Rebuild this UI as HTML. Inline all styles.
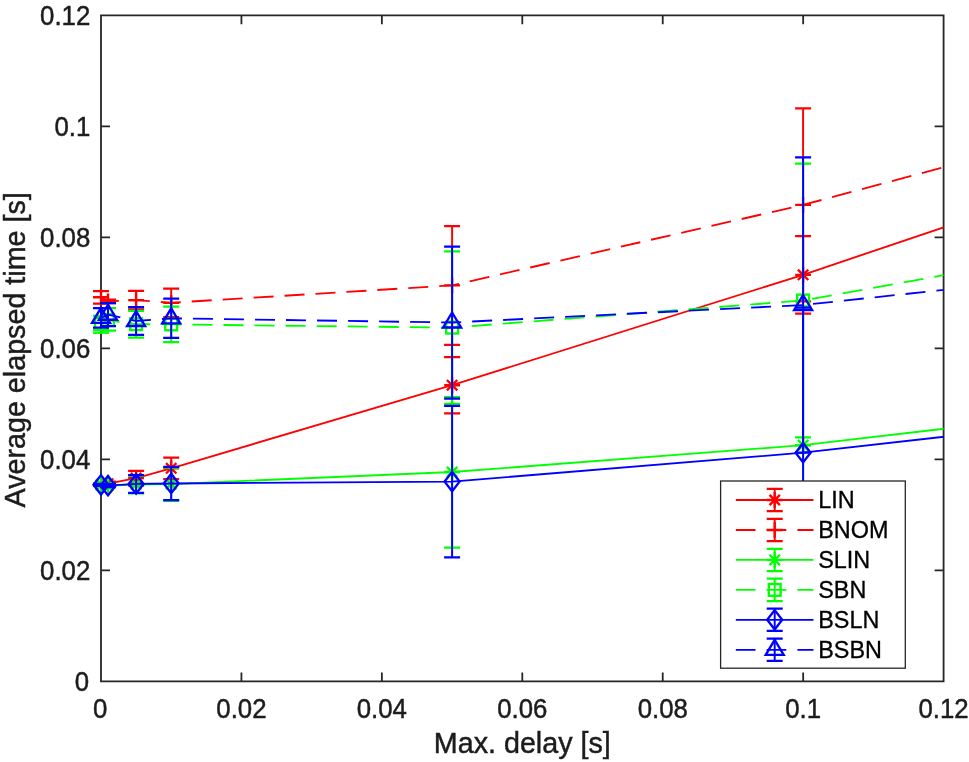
<!DOCTYPE html>
<html lang="en"><head><meta charset="utf-8"><title>Average elapsed time vs. max. delay</title>
<style>
html,body{margin:0;padding:0;background:#fff;}
body{width:969px;height:762px;overflow:hidden;}
svg{display:block;}
text{font-family:"Liberation Sans",Arial,Helvetica,sans-serif;fill:#1c1c1c;}
.tk{font-size:25.8px;stroke:#1c1c1c;stroke-width:0.45px;}
.lb{font-size:28.7px;stroke:#1c1c1c;stroke-width:0.45px;}
.lg{font-size:23.4px;fill:#000;stroke:#000;stroke-width:0.3px;}
</style></head><body>
<svg width="969" height="762" viewBox="0 0 969 762">
<rect x="0" y="0" width="969" height="762" fill="#ffffff"/>
<defs><clipPath id="ax"><rect x="101.00" y="15.30" width="842.60" height="666.10"/></clipPath></defs>

<path d="M101.0 15.3H943.6V681.4H101.0ZM101.00 681.4v-9.0M101.00 15.3v9.0M101.0 681.40h9.0M943.6 681.40h-9.0M241.43 681.4v-9.0M241.43 15.3v9.0M101.0 570.38h9.0M943.6 570.38h-9.0M381.87 681.4v-9.0M381.87 15.3v9.0M101.0 459.37h9.0M943.6 459.37h-9.0M522.30 681.4v-9.0M522.30 15.3v9.0M101.0 348.35h9.0M943.6 348.35h-9.0M662.73 681.4v-9.0M662.73 15.3v9.0M101.0 237.33h9.0M943.6 237.33h-9.0M803.17 681.4v-9.0M803.17 15.3v9.0M101.0 126.32h9.0M943.6 126.32h-9.0M943.60 681.4v-9.0M943.60 15.3v9.0M101.0 15.30h9.0M943.6 15.30h-9.0" stroke="#262626" stroke-width="1.8" fill="none" stroke-linecap="butt"/>
<g>
<path clip-path="url(#ax)" d="M101.00 484.80L108.00 483.70L136.10 478.10L171.20 468.30L452.10 385.20L803.10 274.80L953.60 223.92" stroke="#ff0000" stroke-width="1.85" fill="none" stroke-linejoin="round"/>
<path d="M101.00 483.80V485.80" stroke="#ff0000" stroke-width="1.95" fill="none"/><path d="M93.00 483.80H109.00M93.00 485.80H109.00" stroke="#ff0000" stroke-width="2.25" fill="none"/>
<path d="M108.00 481.70V485.70" stroke="#ff0000" stroke-width="1.95" fill="none"/><path d="M100.00 481.70H116.00M100.00 485.70H116.00" stroke="#ff0000" stroke-width="2.25" fill="none"/>
<path d="M136.10 470.80V485.60" stroke="#ff0000" stroke-width="1.95" fill="none"/><path d="M128.10 470.80H144.10M128.10 485.60H144.10" stroke="#ff0000" stroke-width="2.25" fill="none"/>
<path d="M171.20 457.70V479.00" stroke="#ff0000" stroke-width="1.95" fill="none"/><path d="M163.20 457.70H179.20M163.20 479.00H179.20" stroke="#ff0000" stroke-width="2.25" fill="none"/>
<path d="M452.10 357.10V413.30" stroke="#ff0000" stroke-width="1.95" fill="none"/><path d="M444.10 357.10H460.10M444.10 413.30H460.10" stroke="#ff0000" stroke-width="2.25" fill="none"/>
<path d="M803.10 236.10V313.50" stroke="#ff0000" stroke-width="1.95" fill="none"/><path d="M795.10 236.10H811.10M795.10 313.50H811.10" stroke="#ff0000" stroke-width="2.25" fill="none"/>
<path d="M93.10 484.80H108.90M101.00 476.90V492.70M95.80 479.60L106.20 490.00M95.80 490.00L106.20 479.60" stroke="#ff0000" stroke-width="2.35" fill="none"/>
<path d="M100.10 483.70H115.90M108.00 475.80V491.60M102.80 478.50L113.20 488.90M102.80 488.90L113.20 478.50" stroke="#ff0000" stroke-width="2.35" fill="none"/>
<path d="M128.20 478.10H144.00M136.10 470.20V486.00M130.90 472.90L141.30 483.30M130.90 483.30L141.30 472.90" stroke="#ff0000" stroke-width="2.35" fill="none"/>
<path d="M163.30 468.30H179.10M171.20 460.40V476.20M166.00 463.10L176.40 473.50M166.00 473.50L176.40 463.10" stroke="#ff0000" stroke-width="2.35" fill="none"/>
<path d="M444.20 385.20H460.00M452.10 377.30V393.10M446.90 380.00L457.30 390.40M446.90 390.40L457.30 380.00" stroke="#ff0000" stroke-width="2.35" fill="none"/>
<path d="M795.20 274.80H811.00M803.10 266.90V282.70M797.90 269.60L808.30 280.00M797.90 280.00L808.30 269.60" stroke="#ff0000" stroke-width="2.35" fill="none"/>
<path clip-path="url(#ax)" d="M101.00 297.30L108.00 301.40L136.10 300.10L171.20 302.80L452.10 285.40L803.10 204.90L953.60 164.62" stroke="#ff0000" stroke-width="1.85" fill="none" stroke-linejoin="round" stroke-dasharray="20 11.0" stroke-dashoffset="1.0"/>
<path d="M101.00 291.00V303.60" stroke="#ff0000" stroke-width="1.95" fill="none"/><path d="M93.00 291.00H109.00M93.00 303.60H109.00" stroke="#ff0000" stroke-width="2.25" fill="none"/>
<path d="M108.00 299.70V303.10" stroke="#ff0000" stroke-width="1.95" fill="none"/><path d="M100.00 299.70H116.00M100.00 303.10H116.00" stroke="#ff0000" stroke-width="2.25" fill="none"/>
<path d="M136.10 290.80V309.40" stroke="#ff0000" stroke-width="1.95" fill="none"/><path d="M128.10 290.80H144.10M128.10 309.40H144.10" stroke="#ff0000" stroke-width="2.25" fill="none"/>
<path d="M171.20 288.60V317.00" stroke="#ff0000" stroke-width="1.95" fill="none"/><path d="M163.20 288.60H179.20M163.20 317.00H179.20" stroke="#ff0000" stroke-width="2.25" fill="none"/>
<path d="M452.10 226.10V344.90" stroke="#ff0000" stroke-width="1.95" fill="none"/><path d="M444.10 226.10H460.10M444.10 344.90H460.10" stroke="#ff0000" stroke-width="2.25" fill="none"/>
<path d="M803.10 108.40V301.30" stroke="#ff0000" stroke-width="1.95" fill="none"/><path d="M795.10 108.40H811.10M795.10 301.30H811.10" stroke="#ff0000" stroke-width="2.25" fill="none"/>
<path d="M93.00 296.90H109.00" stroke="#ff0000" stroke-width="1.85"/>
<path d="M93.10 297.30H108.90M101.00 289.40V305.20" stroke="#ff0000" stroke-width="2.35" fill="none"/>
<path d="M100.10 301.40H115.90M108.00 293.50V309.30" stroke="#ff0000" stroke-width="2.35" fill="none"/>
<path d="M128.20 300.10H144.00M136.10 292.20V308.00" stroke="#ff0000" stroke-width="2.35" fill="none"/>
<path d="M163.30 302.80H179.10M171.20 294.90V310.70" stroke="#ff0000" stroke-width="2.35" fill="none"/>
<path d="M444.20 285.40H460.00M452.10 277.50V293.30" stroke="#ff0000" stroke-width="2.35" fill="none"/>
<path d="M795.20 204.90H811.00M803.10 197.00V212.80" stroke="#ff0000" stroke-width="2.35" fill="none"/>
<path clip-path="url(#ax)" d="M101.00 484.80L108.00 485.70L136.10 484.50L171.20 484.10L452.10 472.00L803.10 445.20L953.60 427.63" stroke="#00ff00" stroke-width="1.85" fill="none" stroke-linejoin="round"/>
<path d="M101.00 483.80V485.80" stroke="#00ff00" stroke-width="1.95" fill="none"/><path d="M93.00 483.80H109.00M93.00 485.80H109.00" stroke="#00ff00" stroke-width="2.25" fill="none"/>
<path d="M108.00 484.20V487.20" stroke="#00ff00" stroke-width="1.95" fill="none"/><path d="M100.00 484.20H116.00M100.00 487.20H116.00" stroke="#00ff00" stroke-width="2.25" fill="none"/>
<path d="M136.10 475.50V493.40" stroke="#00ff00" stroke-width="1.95" fill="none"/><path d="M128.10 475.50H144.10M128.10 493.40H144.10" stroke="#00ff00" stroke-width="2.25" fill="none"/>
<path d="M171.20 467.50V500.80" stroke="#00ff00" stroke-width="1.95" fill="none"/><path d="M163.20 467.50H179.20M163.20 500.80H179.20" stroke="#00ff00" stroke-width="2.25" fill="none"/>
<path d="M452.10 397.10V547.50" stroke="#00ff00" stroke-width="1.95" fill="none"/><path d="M444.10 397.10H460.10M444.10 547.50H460.10" stroke="#00ff00" stroke-width="2.25" fill="none"/>
<path d="M803.10 445.20V660.00" stroke="#00ff00" stroke-width="1.95" fill="none"/><path d="M795.10 445.20H811.10M795.10 660.00H811.10" stroke="#00ff00" stroke-width="2.25" fill="none"/>
<path d="M93.10 484.80H108.90M101.00 476.90V492.70M95.80 479.60L106.20 490.00M95.80 490.00L106.20 479.60" stroke="#00ff00" stroke-width="2.35" fill="none"/>
<path d="M100.10 485.70H115.90M108.00 477.80V493.60M102.80 480.50L113.20 490.90M102.80 490.90L113.20 480.50" stroke="#00ff00" stroke-width="2.35" fill="none"/>
<path d="M128.20 484.50H144.00M136.10 476.60V492.40M130.90 479.30L141.30 489.70M130.90 489.70L141.30 479.30" stroke="#00ff00" stroke-width="2.35" fill="none"/>
<path d="M163.30 484.10H179.10M171.20 476.20V492.00M166.00 478.90L176.40 489.30M166.00 489.30L176.40 478.90" stroke="#00ff00" stroke-width="2.35" fill="none"/>
<path d="M444.20 472.00H460.00M452.10 464.10V479.90M446.90 466.80L457.30 477.20M446.90 477.20L457.30 466.80" stroke="#00ff00" stroke-width="2.35" fill="none"/>
<path d="M795.20 445.20H811.00M803.10 437.30V453.10M797.90 440.00L808.30 450.40M797.90 450.40L808.30 440.00" stroke="#00ff00" stroke-width="2.35" fill="none"/>
<path clip-path="url(#ax)" d="M101.00 324.00L108.00 320.00L136.10 324.20L171.20 324.40L452.10 327.60L803.10 300.50L953.60 273.40" stroke="#00ff00" stroke-width="1.85" fill="none" stroke-linejoin="round" stroke-dasharray="20 11.04" stroke-dashoffset="0.3"/>
<path d="M101.00 315.80V330.40" stroke="#00ff00" stroke-width="1.95" fill="none"/><path d="M93.00 315.80H109.00M93.00 330.40H109.00" stroke="#00ff00" stroke-width="2.25" fill="none"/>
<path d="M108.00 308.00V330.60" stroke="#00ff00" stroke-width="1.95" fill="none"/><path d="M100.00 308.00H116.00M100.00 330.60H116.00" stroke="#00ff00" stroke-width="2.25" fill="none"/>
<path d="M136.10 310.90V337.50" stroke="#00ff00" stroke-width="1.95" fill="none"/><path d="M128.10 310.90H144.10M128.10 337.50H144.10" stroke="#00ff00" stroke-width="2.25" fill="none"/>
<path d="M171.20 306.50V342.20" stroke="#00ff00" stroke-width="1.95" fill="none"/><path d="M163.20 306.50H179.20M163.20 342.20H179.20" stroke="#00ff00" stroke-width="2.25" fill="none"/>
<path d="M452.10 251.40V403.90" stroke="#00ff00" stroke-width="1.95" fill="none"/><path d="M444.10 251.40H460.10M444.10 403.90H460.10" stroke="#00ff00" stroke-width="2.25" fill="none"/>
<path d="M803.10 163.70V437.40" stroke="#00ff00" stroke-width="1.95" fill="none"/><path d="M795.10 163.70H811.10M795.10 437.40H811.10" stroke="#00ff00" stroke-width="2.25" fill="none"/>
<path d="M93.00 333.00H109.00" stroke="#00ff00" stroke-width="1.85"/>
<rect x="95.10" y="318.10" width="11.80" height="11.80" stroke="#00ff00" stroke-width="2.35" fill="none"/>
<rect x="102.10" y="314.10" width="11.80" height="11.80" stroke="#00ff00" stroke-width="2.35" fill="none"/>
<rect x="130.20" y="318.30" width="11.80" height="11.80" stroke="#00ff00" stroke-width="2.35" fill="none"/>
<rect x="165.30" y="318.50" width="11.80" height="11.80" stroke="#00ff00" stroke-width="2.35" fill="none"/>
<rect x="446.20" y="321.70" width="11.80" height="11.80" stroke="#00ff00" stroke-width="2.35" fill="none"/>
<rect x="797.20" y="294.60" width="11.80" height="11.80" stroke="#00ff00" stroke-width="2.35" fill="none"/>
<path clip-path="url(#ax)" d="M101.00 484.80L108.00 485.70L136.10 483.90L171.20 483.50L452.10 481.60L803.10 452.70L953.60 435.67" stroke="#0000ff" stroke-width="1.85" fill="none" stroke-linejoin="round"/>
<path d="M101.00 483.80V485.80" stroke="#0000ff" stroke-width="1.95" fill="none"/><path d="M93.00 483.80H109.00M93.00 485.80H109.00" stroke="#0000ff" stroke-width="2.25" fill="none"/>
<path d="M108.00 484.20V487.20" stroke="#0000ff" stroke-width="1.95" fill="none"/><path d="M100.00 484.20H116.00M100.00 487.20H116.00" stroke="#0000ff" stroke-width="2.25" fill="none"/>
<path d="M136.10 475.00V492.80" stroke="#0000ff" stroke-width="1.95" fill="none"/><path d="M128.10 475.00H144.10M128.10 492.80H144.10" stroke="#0000ff" stroke-width="2.25" fill="none"/>
<path d="M171.20 466.90V500.00" stroke="#0000ff" stroke-width="1.95" fill="none"/><path d="M163.20 466.90H179.20M163.20 500.00H179.20" stroke="#0000ff" stroke-width="2.25" fill="none"/>
<path d="M452.10 405.90V557.40" stroke="#0000ff" stroke-width="1.95" fill="none"/><path d="M444.10 405.90H460.10M444.10 557.40H460.10" stroke="#0000ff" stroke-width="2.25" fill="none"/>
<path d="M803.10 307.70V660.00" stroke="#0000ff" stroke-width="1.95" fill="none"/><path d="M795.10 307.70H811.10M795.10 660.00H811.10" stroke="#0000ff" stroke-width="2.25" fill="none"/>
<path d="M101.00 475.10L108.50 484.80L101.00 494.50L93.50 484.80Z" stroke="#0000ff" stroke-width="2.35" fill="none" stroke-linejoin="miter"/>
<path d="M108.00 476.00L115.50 485.70L108.00 495.40L100.50 485.70Z" stroke="#0000ff" stroke-width="2.35" fill="none" stroke-linejoin="miter"/>
<path d="M136.10 474.20L143.60 483.90L136.10 493.60L128.60 483.90Z" stroke="#0000ff" stroke-width="2.35" fill="none" stroke-linejoin="miter"/>
<path d="M171.20 473.80L178.70 483.50L171.20 493.20L163.70 483.50Z" stroke="#0000ff" stroke-width="2.35" fill="none" stroke-linejoin="miter"/>
<path d="M452.10 471.90L459.60 481.60L452.10 491.30L444.60 481.60Z" stroke="#0000ff" stroke-width="2.35" fill="none" stroke-linejoin="miter"/>
<path d="M803.10 443.00L810.60 452.70L803.10 462.40L795.60 452.70Z" stroke="#0000ff" stroke-width="2.35" fill="none" stroke-linejoin="miter"/>
<path clip-path="url(#ax)" d="M101.00 317.80L108.00 314.70L136.10 321.00L171.20 318.30L452.10 322.50L803.10 305.00L953.60 288.83" stroke="#0000ff" stroke-width="1.85" fill="none" stroke-linejoin="round" stroke-dasharray="20 11.03" stroke-dashoffset="-0.3"/>
<path d="M101.00 308.00V327.60" stroke="#0000ff" stroke-width="1.95" fill="none"/><path d="M93.00 308.00H109.00M93.00 327.60H109.00" stroke="#0000ff" stroke-width="2.25" fill="none"/>
<path d="M108.00 303.10V326.20" stroke="#0000ff" stroke-width="1.95" fill="none"/><path d="M100.00 303.10H116.00M100.00 326.20H116.00" stroke="#0000ff" stroke-width="2.25" fill="none"/>
<path d="M136.10 307.20V334.80" stroke="#0000ff" stroke-width="1.95" fill="none"/><path d="M128.10 307.20H144.10M128.10 334.80H144.10" stroke="#0000ff" stroke-width="2.25" fill="none"/>
<path d="M171.20 298.70V337.90" stroke="#0000ff" stroke-width="1.95" fill="none"/><path d="M163.20 298.70H179.20M163.20 337.90H179.20" stroke="#0000ff" stroke-width="2.25" fill="none"/>
<path d="M452.10 246.60V398.60" stroke="#0000ff" stroke-width="1.95" fill="none"/><path d="M444.10 246.60H460.10M444.10 398.60H460.10" stroke="#0000ff" stroke-width="2.25" fill="none"/>
<path d="M803.10 157.40V452.60" stroke="#0000ff" stroke-width="1.95" fill="none"/><path d="M795.10 157.40H811.10M795.10 452.60H811.10" stroke="#0000ff" stroke-width="2.25" fill="none"/>
<path d="M101.00 307.80L110.00 322.80L92.00 322.80Z" stroke="#0000ff" stroke-width="2.35" fill="none" stroke-linejoin="miter"/>
<path d="M108.00 304.70L117.00 319.70L99.00 319.70Z" stroke="#0000ff" stroke-width="2.35" fill="none" stroke-linejoin="miter"/>
<path d="M136.10 311.00L145.10 326.00L127.10 326.00Z" stroke="#0000ff" stroke-width="2.35" fill="none" stroke-linejoin="miter"/>
<path d="M171.20 308.30L180.20 323.30L162.20 323.30Z" stroke="#0000ff" stroke-width="2.35" fill="none" stroke-linejoin="miter"/>
<path d="M452.10 312.50L461.10 327.50L443.10 327.50Z" stroke="#0000ff" stroke-width="2.35" fill="none" stroke-linejoin="miter"/>
<path d="M803.10 295.00L812.10 310.00L794.10 310.00Z" stroke="#0000ff" stroke-width="2.35" fill="none" stroke-linejoin="miter"/>
</g>
<text class="tk" transform="translate(100.10 717.5) scale(1 1.04)" text-anchor="middle">0</text>
<text class="tk" transform="translate(241.43 717.5) scale(1 1.04)" text-anchor="middle">0.02</text>
<text class="tk" transform="translate(381.87 717.5) scale(1 1.04)" text-anchor="middle">0.04</text>
<text class="tk" transform="translate(522.30 717.5) scale(1 1.04)" text-anchor="middle">0.06</text>
<text class="tk" transform="translate(662.73 717.5) scale(1 1.04)" text-anchor="middle">0.08</text>
<text class="tk" transform="translate(803.17 717.5) scale(1 1.04)" text-anchor="middle">0.1</text>
<text class="tk" transform="translate(943.60 717.5) scale(1 1.04)" text-anchor="middle">0.12</text>
<text class="tk" transform="translate(89.2 691.30) scale(1 1.04)" text-anchor="end">0</text>
<text class="tk" transform="translate(90.3 580.28) scale(1 1.04)" text-anchor="end">0.02</text>
<text class="tk" transform="translate(90.3 469.27) scale(1 1.04)" text-anchor="end">0.04</text>
<text class="tk" transform="translate(90.3 358.25) scale(1 1.04)" text-anchor="end">0.06</text>
<text class="tk" transform="translate(90.3 247.23) scale(1 1.04)" text-anchor="end">0.08</text>
<text class="tk" transform="translate(90.3 136.22) scale(1 1.04)" text-anchor="end">0.1</text>
<text class="tk" transform="translate(90.3 25.20) scale(1 1.04)" text-anchor="end">0.12</text>
<text class="lb" transform="translate(522.30 752.6) scale(1 1.04)" text-anchor="middle">Max. delay [s]</text>
<text class="lb" transform="translate(25.2 349.85) rotate(-90) scale(1 1.04)" text-anchor="middle">Average elapsed time [s]</text>
<rect x="720.6" y="481.0" width="184.70" height="187.20" fill="#fff" stroke="#262626" stroke-width="1.3"/>
<path d="M735.8 500.00H813.5" stroke="#ff0000" stroke-width="1.85" fill="none"/>
<path d="M774.70 488.85V511.15" stroke="#ff0000" stroke-width="1.95" fill="none"/><path d="M766.70 488.85H782.70M766.70 511.15H782.70" stroke="#ff0000" stroke-width="2.25" fill="none"/>
<path d="M766.80 500.00H782.60M774.70 492.10V507.90M769.50 494.80L779.90 505.20M769.50 505.20L779.90 494.80" stroke="#ff0000" stroke-width="2.35" fill="none"/>
<text class="lg" transform="translate(818.2 508.30)">LIN</text>
<path d="M735.8 529.96H813.5" stroke="#ff0000" stroke-width="1.85" fill="none" stroke-dasharray="19.7 11.1"/>
<path d="M774.70 518.81V541.11" stroke="#ff0000" stroke-width="1.95" fill="none"/><path d="M766.70 518.81H782.70M766.70 541.11H782.70" stroke="#ff0000" stroke-width="2.25" fill="none"/>
<path d="M766.80 529.96H782.60M774.70 522.06V537.86" stroke="#ff0000" stroke-width="2.35" fill="none"/>
<text class="lg" transform="translate(818.2 538.26)">BNOM</text>
<path d="M735.8 559.92H813.5" stroke="#00ff00" stroke-width="1.85" fill="none"/>
<path d="M774.70 548.77V571.07" stroke="#00ff00" stroke-width="1.95" fill="none"/><path d="M766.70 548.77H782.70M766.70 571.07H782.70" stroke="#00ff00" stroke-width="2.25" fill="none"/>
<path d="M766.80 559.92H782.60M774.70 552.02V567.82M769.50 554.72L779.90 565.12M769.50 565.12L779.90 554.72" stroke="#00ff00" stroke-width="2.35" fill="none"/>
<text class="lg" transform="translate(818.2 568.22)">SLIN</text>
<path d="M735.8 589.88H813.5" stroke="#00ff00" stroke-width="1.85" fill="none" stroke-dasharray="19.7 11.1"/>
<path d="M774.70 578.73V601.03" stroke="#00ff00" stroke-width="1.95" fill="none"/><path d="M766.70 578.73H782.70M766.70 601.03H782.70" stroke="#00ff00" stroke-width="2.25" fill="none"/>
<rect x="768.80" y="583.98" width="11.80" height="11.80" stroke="#00ff00" stroke-width="2.35" fill="none"/>
<text class="lg" transform="translate(818.2 598.18)">SBN</text>
<path d="M735.8 619.84H813.5" stroke="#0000ff" stroke-width="1.85" fill="none"/>
<path d="M774.70 608.69V630.99" stroke="#0000ff" stroke-width="1.95" fill="none"/><path d="M766.70 608.69H782.70M766.70 630.99H782.70" stroke="#0000ff" stroke-width="2.25" fill="none"/>
<path d="M774.70 610.14L782.20 619.84L774.70 629.54L767.20 619.84Z" stroke="#0000ff" stroke-width="2.35" fill="none" stroke-linejoin="miter"/>
<text class="lg" transform="translate(818.2 628.14)">BSLN</text>
<path d="M735.8 649.80H813.5" stroke="#0000ff" stroke-width="1.85" fill="none" stroke-dasharray="19.7 11.1"/>
<path d="M774.70 638.65V660.95" stroke="#0000ff" stroke-width="1.95" fill="none"/><path d="M766.70 638.65H782.70M766.70 660.95H782.70" stroke="#0000ff" stroke-width="2.25" fill="none"/>
<path d="M774.70 639.80L783.70 654.80L765.70 654.80Z" stroke="#0000ff" stroke-width="2.35" fill="none" stroke-linejoin="miter"/>
<text class="lg" transform="translate(818.2 658.10)">BSBN</text>
</svg></body></html>
